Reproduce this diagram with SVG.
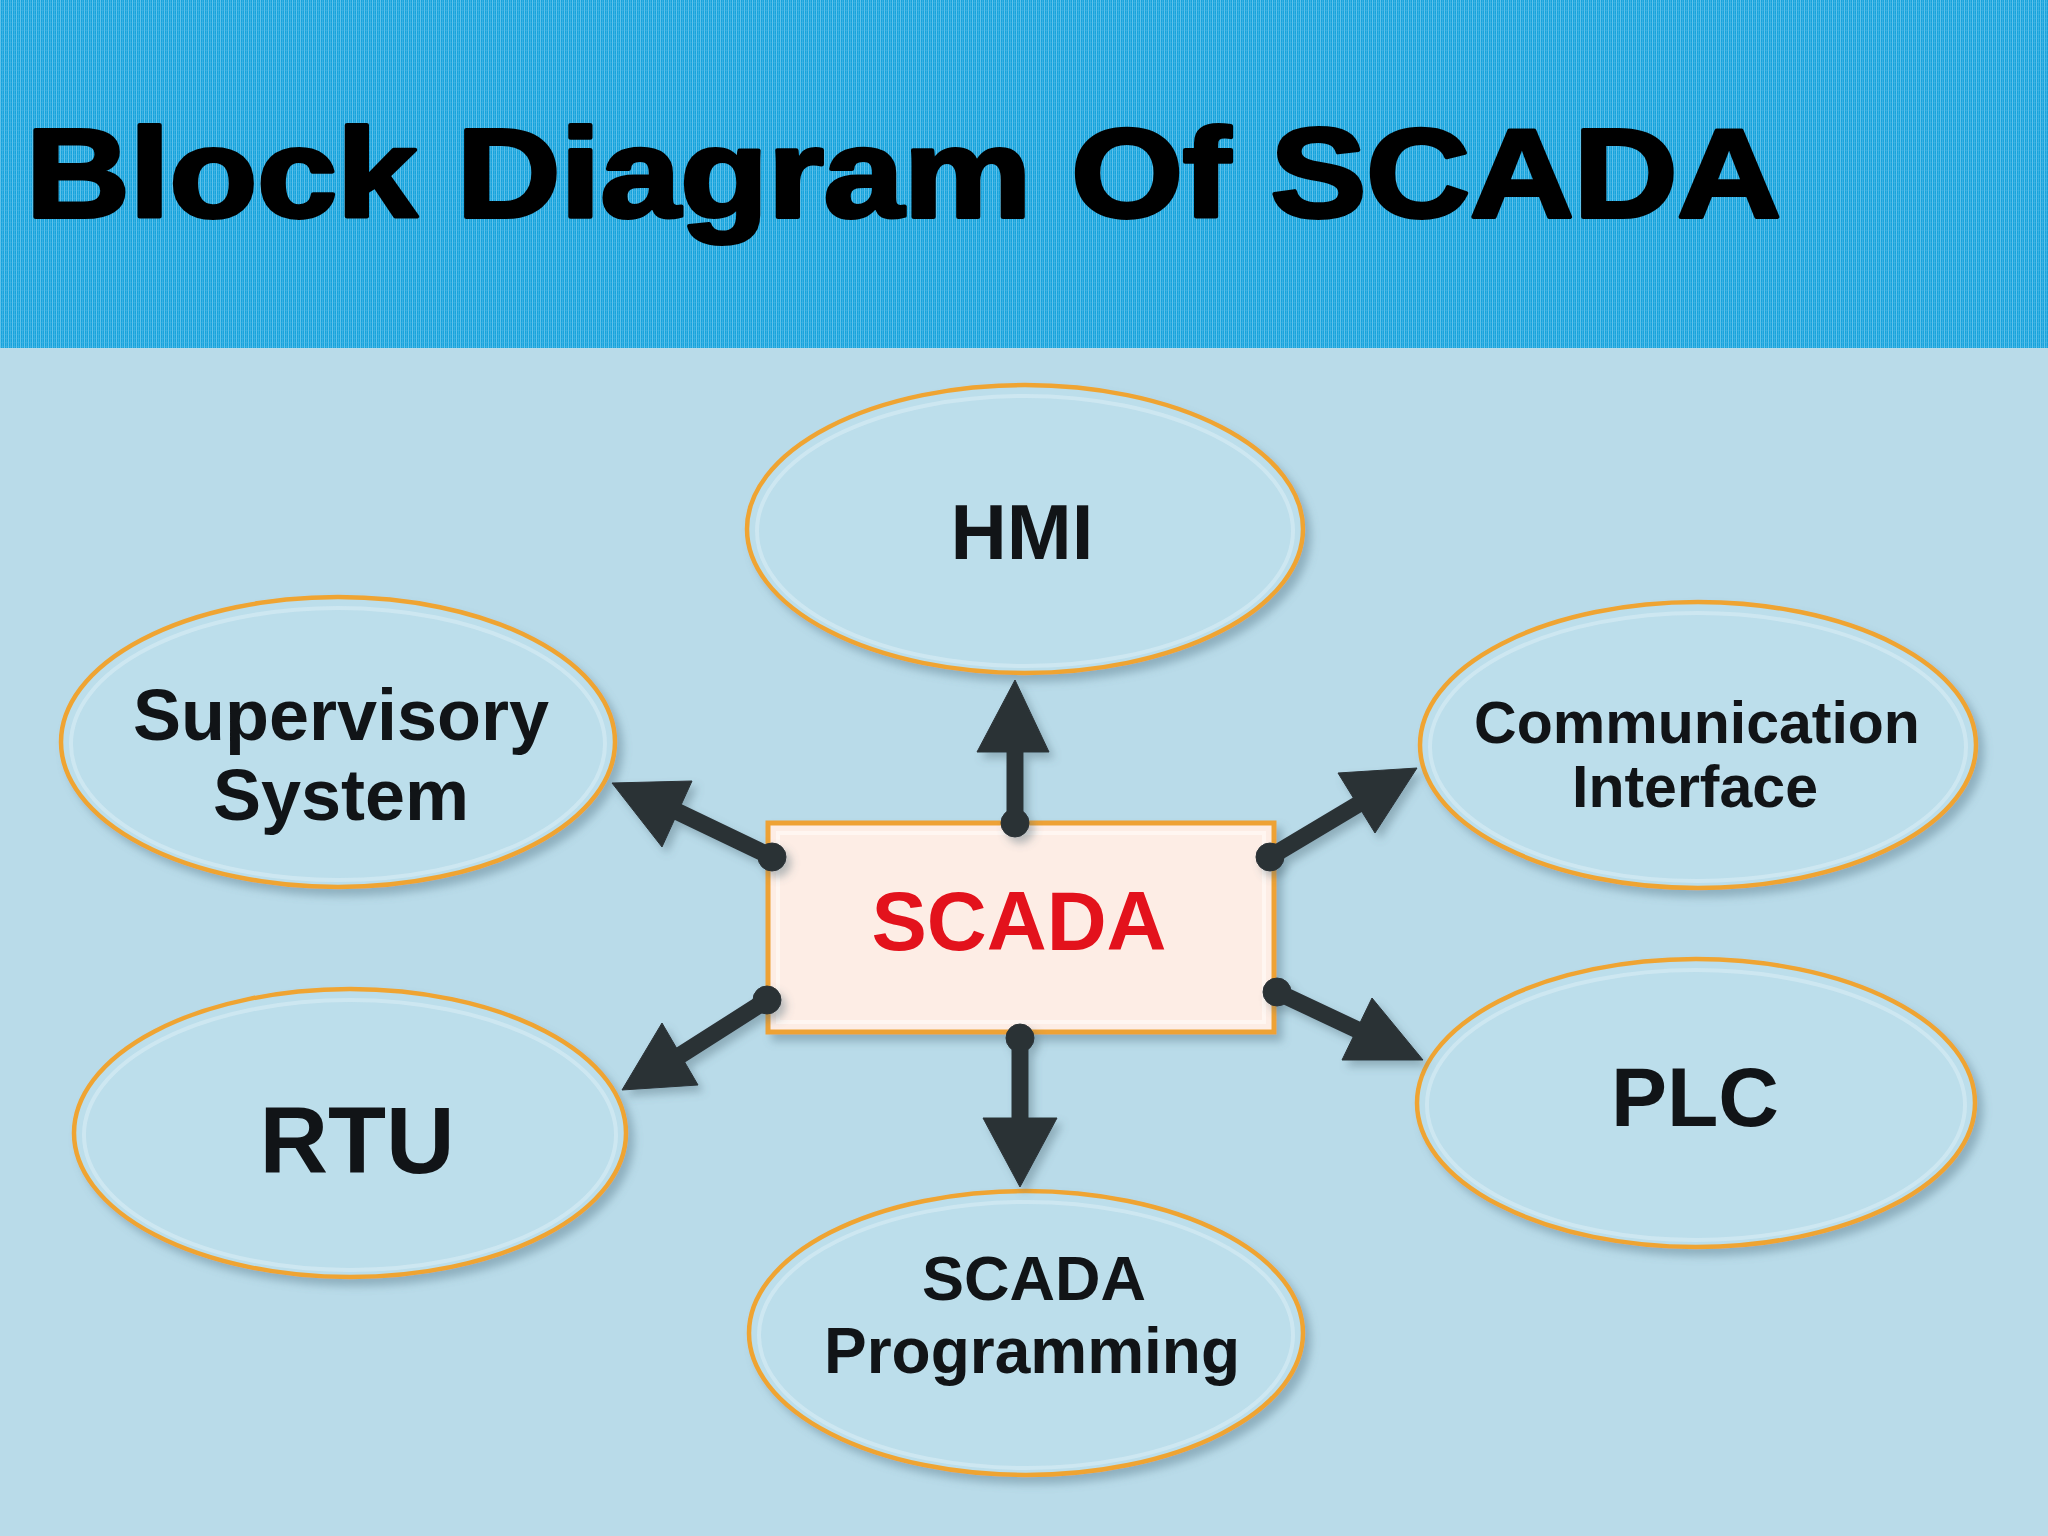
<svg xmlns="http://www.w3.org/2000/svg" width="2048" height="1536" viewBox="0 0 2048 1536">
  <defs>
    <pattern id="dither" width="4" height="4" patternUnits="userSpaceOnUse">
      <rect width="4" height="4" fill="#17a3dc"/>
      <rect x="0" y="0" width="1" height="4" fill="#7fcff0" opacity="0.7"/>
      <rect x="2" y="0" width="1" height="4" fill="#5cc0ea" opacity="0.5"/>
      <rect x="0" y="2" width="4" height="1" fill="#4fb9e8" opacity="0.3"/>
    </pattern>
    <filter id="shadow" x="-20%" y="-20%" width="140%" height="150%">
      <feDropShadow dx="6" dy="7" stdDeviation="4" flood-color="#5b7d8c" flood-opacity="0.45"/>
    </filter>
    <filter id="ashadow" x="-30%" y="-30%" width="160%" height="160%">
      <feDropShadow dx="5" dy="6" stdDeviation="4" flood-color="#4d6b78" flood-opacity="0.4"/>
    </filter>
    <style>
      .ell { fill: #bcdeeb; stroke: #efa433; stroke-width: 4.5; }
      .hi { fill: none; stroke: #e3f2f8; stroke-width: 4; opacity: 0.45; }
      .lbl { font-family: "Liberation Sans", Arial, sans-serif; font-weight: bold; fill: #111417; text-anchor: middle; }
      .arrow { fill: #2b3236; stroke: #2b3236; }
      .shaft { stroke: #2b3236; stroke-width: 17; stroke-linecap: round; fill: none; }
    </style>
  </defs>

  <rect x="0" y="0" width="2048" height="1536" fill="#b9dbe9"/>
  <rect x="0" y="0" width="2048" height="348" fill="url(#dither)"/>
  <text x="26" y="217" font-family="Liberation Sans, Arial, sans-serif" font-weight="bold" font-size="126" fill="#000" stroke="#000" stroke-width="4" stroke-linejoin="round" textLength="1755" lengthAdjust="spacingAndGlyphs">Block Diagram Of SCADA</text>

  <g id="hmi">
    <ellipse class="ell" cx="1025" cy="529" rx="278" ry="144" filter="url(#shadow)"/>
    <ellipse class="hi" cx="1025" cy="531" rx="268" ry="135"/>
    <text class="lbl" x="1022" y="559" font-size="78">HMI</text>
  </g>

  <g id="supervisory">
    <ellipse class="ell" cx="338" cy="742" rx="277" ry="145" filter="url(#shadow)"/>
    <ellipse class="hi" cx="338" cy="744" rx="267" ry="136"/>
    <text class="lbl" x="341" y="740" font-size="72">Supervisory</text>
    <text class="lbl" x="341" y="820" font-size="72">System</text>
  </g>

  <g id="communication">
    <ellipse class="ell" cx="1698" cy="745" rx="278" ry="143" filter="url(#shadow)"/>
    <ellipse class="hi" cx="1698" cy="747" rx="268" ry="134"/>
    <text class="lbl" x="1697" y="743" font-size="59">Communication</text>
    <text class="lbl" x="1695" y="807" font-size="59">Interface</text>
  </g>

  <g id="rtu">
    <ellipse class="ell" cx="350" cy="1133" rx="276" ry="144" filter="url(#shadow)"/>
    <ellipse class="hi" cx="350" cy="1135" rx="266" ry="135"/>
    <text class="lbl" x="357" y="1173" font-size="95">RTU</text>
  </g>

  <g id="plc">
    <ellipse class="ell" cx="1696" cy="1103" rx="279" ry="144" filter="url(#shadow)"/>
    <ellipse class="hi" cx="1696" cy="1105" rx="269" ry="135"/>
    <text class="lbl" x="1695" y="1126" font-size="84">PLC</text>
  </g>

  <g id="programming">
    <ellipse class="ell" cx="1026" cy="1333" rx="277" ry="142" filter="url(#shadow)"/>
    <ellipse class="hi" cx="1026" cy="1335" rx="267" ry="133"/>
    <text class="lbl" x="1034" y="1300" font-size="63">SCADA</text>
    <text class="lbl" x="1032" y="1373" font-size="64">Programming</text>
  </g>

  <g id="scada">
    <rect x="768" y="823" width="506" height="209" fill="#fdede5" stroke="#eea236" stroke-width="5" filter="url(#shadow)"/>
    <rect x="778" y="833" width="486" height="189" fill="none" stroke="#fff8f4" stroke-width="4" opacity="0.8"/>
    <text x="1019" y="950" font-family="Liberation Sans, Arial, sans-serif" font-weight="bold" font-size="83" fill="#e3121c" text-anchor="middle">SCADA</text>
  </g>

  <g id="connectors" filter="url(#ashadow)">
    <!-- to HMI -->
    <line class="shaft" x1="1015" y1="823" x2="1015" y2="750"/>
    <polygon class="arrow" points="1015,680 1049,752 977,752"/>
    <circle class="arrow" cx="1015" cy="823" r="14"/>
    <!-- to Supervisory -->
    <line class="shaft" x1="772" y1="857" x2="676" y2="811"/>
    <polygon class="arrow" points="612,783 692,781 662,847"/>
    <circle class="arrow" cx="772" cy="857" r="14"/>
    <!-- to RTU -->
    <line class="shaft" x1="767" y1="1000" x2="676" y2="1058"/>
    <polygon class="arrow" points="622,1090 662,1023 698,1085"/>
    <circle class="arrow" cx="767" cy="1000" r="14"/>
    <!-- to Communication -->
    <line class="shaft" x1="1270" y1="857" x2="1362" y2="802"/>
    <polygon class="arrow" points="1417,768 1338,773 1375,833"/>
    <circle class="arrow" cx="1270" cy="857" r="14"/>
    <!-- to PLC -->
    <line class="shaft" x1="1277" y1="992" x2="1362" y2="1032"/>
    <polygon class="arrow" points="1423,1060 1372,998 1342,1060"/>
    <circle class="arrow" cx="1277" cy="992" r="14"/>
    <!-- to SCADA Programming -->
    <line class="shaft" x1="1020" y1="1038" x2="1020" y2="1120"/>
    <polygon class="arrow" points="1020,1187 983,1118 1057,1118"/>
    <circle class="arrow" cx="1020" cy="1038" r="14"/>
  </g>
</svg>
